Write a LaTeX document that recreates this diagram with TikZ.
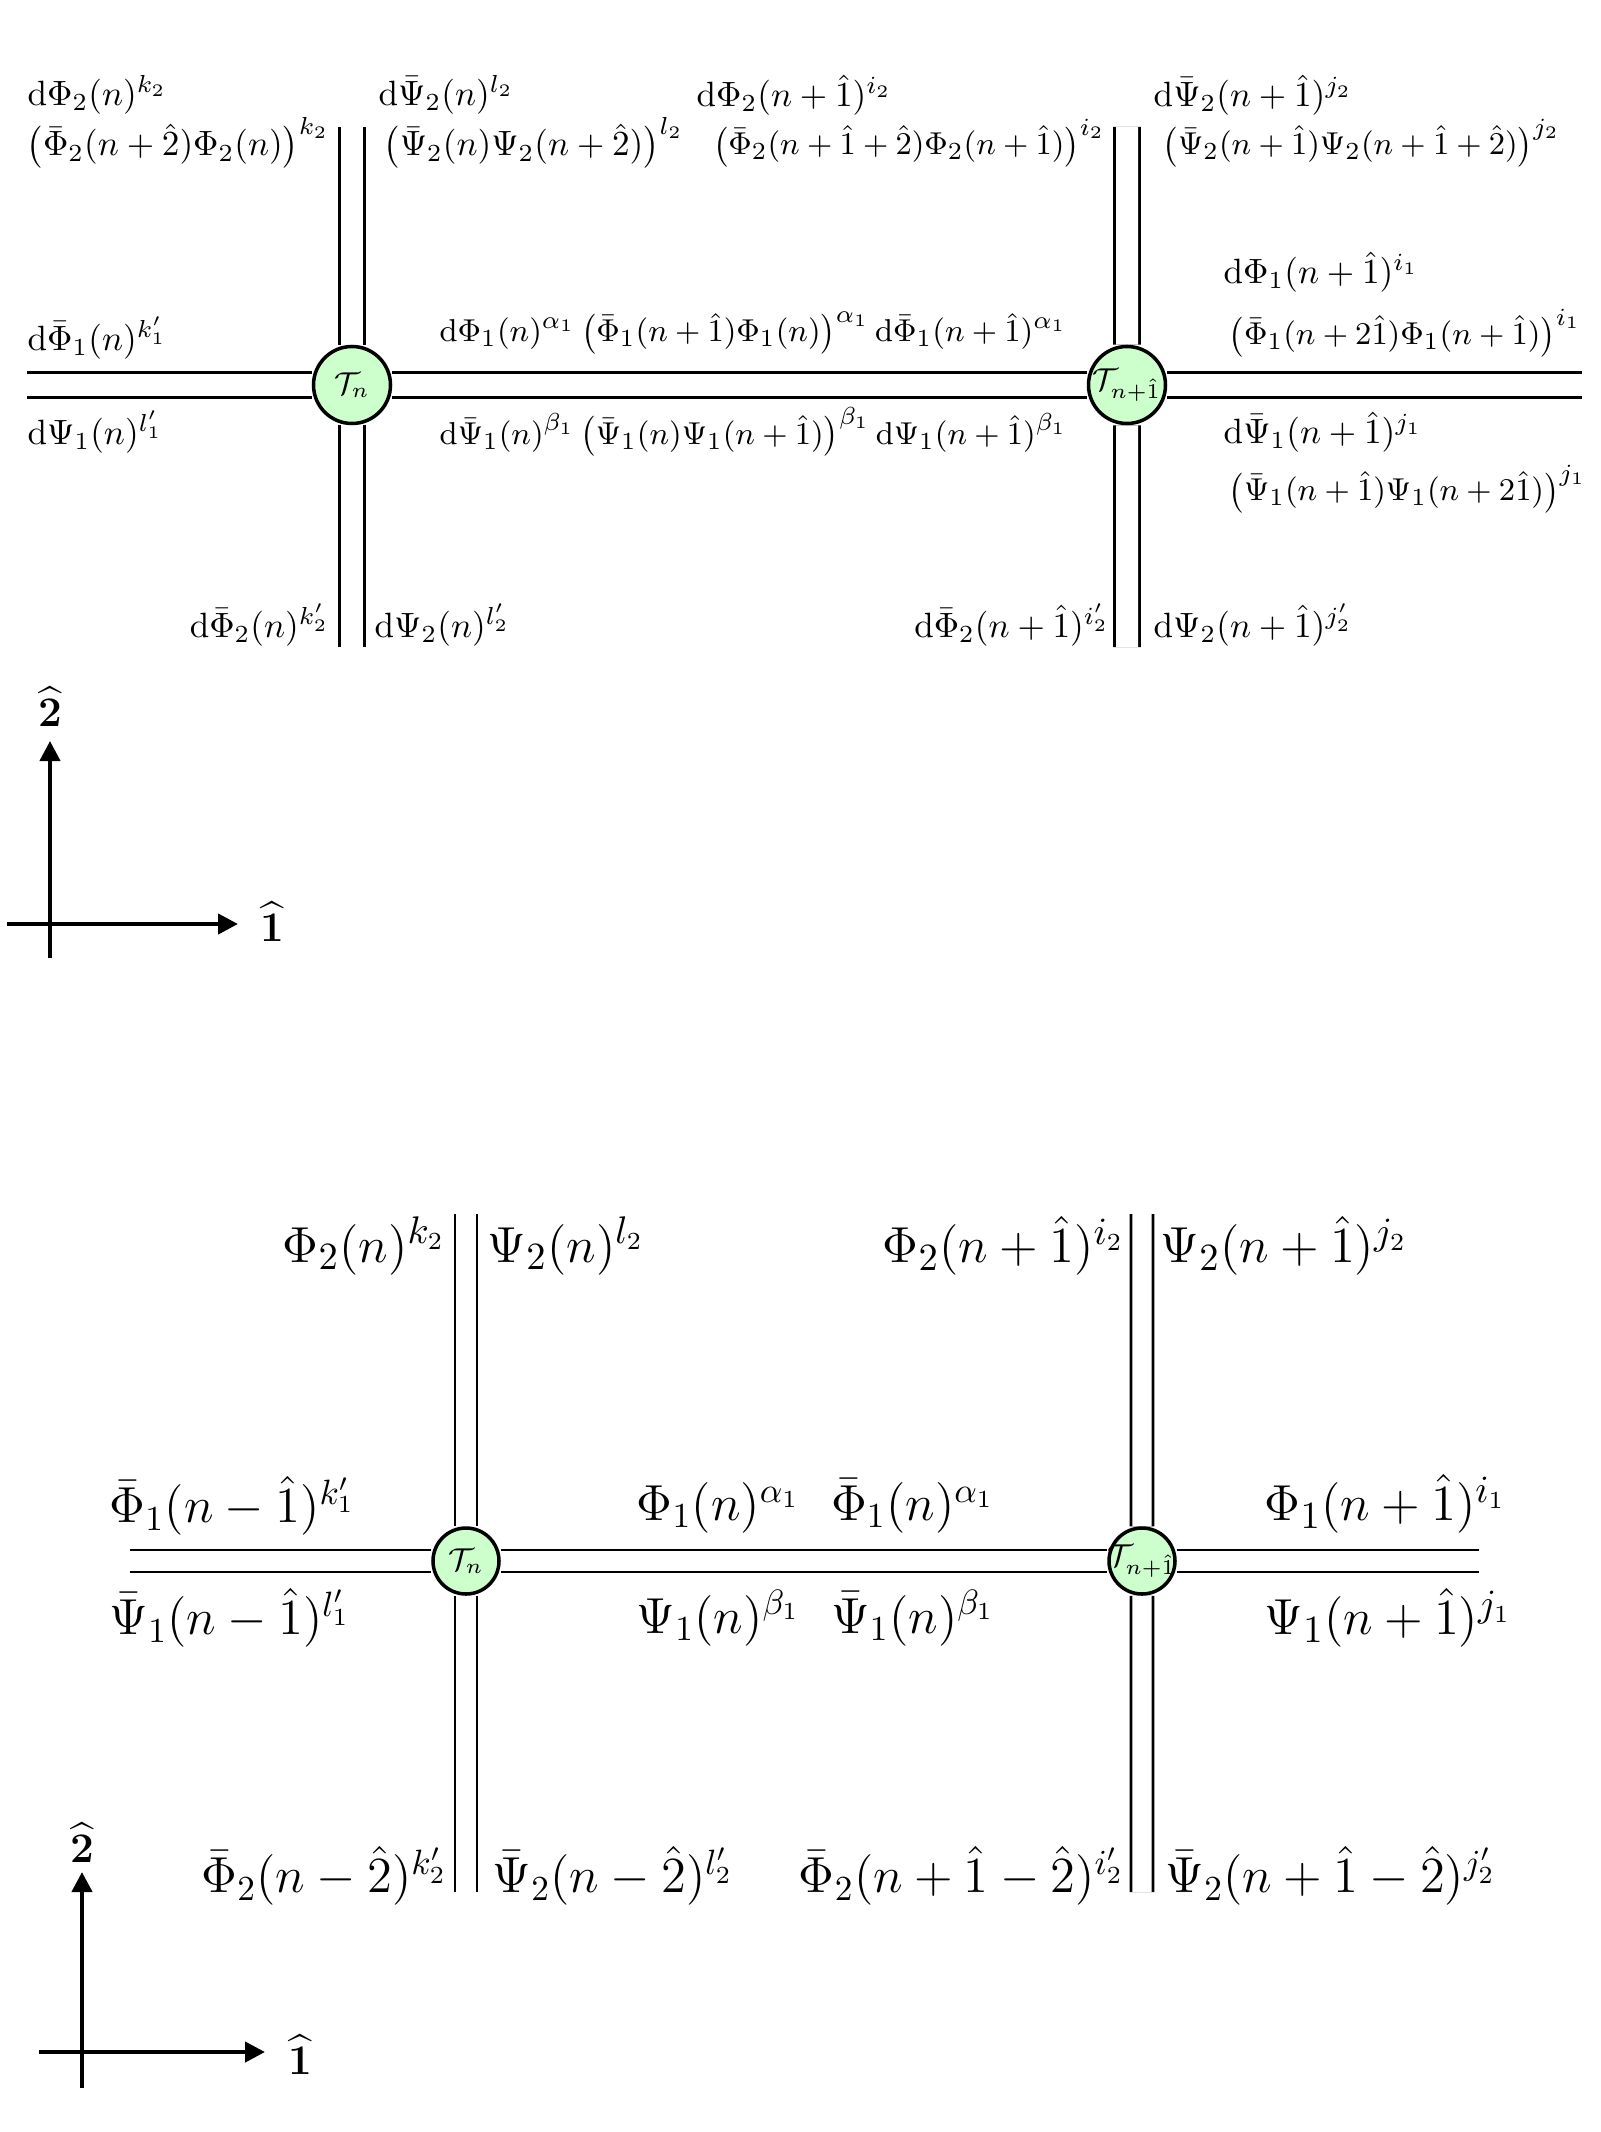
\documentclass[tikz,border=0pt]{standalone}
\usepackage{amsmath,amssymb}
\usetikzlibrary{positioning,arrows.meta,backgrounds}
\definecolor{tensorFill}{HTML}{CCFFCC}
\newcommand{\dd}{\mathrm{d}}
\newcommand{\eone}{\hat{1}}
\newcommand{\etwo}{\hat{2}}
\newcommand{\bPhi}{\bar{\Phi}}
\newcommand{\bPsi}{\bar{\Psi}}

\begin{document}
\begin{tikzpicture}[
    x=0.1mm, y=-0.1mm,
    tensor/.style={
        circle, draw, fill=tensorFill,
        line width=1pt, inner sep=0pt,
        minimum size=7.7mm, font=\small
    },
    leg/.style={draw, line width=0.8pt, double, double distance=2.2mm},
    lab/.style={inner sep=0pt, font=\normalsize},
    slab/.style={lab, font=\fontsize{9.5}{11.5}\selectfont},
    biglab/.style={inner sep=0pt, font=\fontsize{15}{18}\selectfont},
    sbiglab/.style={biglab, font=\fontsize{13.6}{16}\selectfont},
    axis/.style={-{Triangle[length=2mm, width=2mm]}, line width=1.2pt},
    axlab/.style={font=\large}
]
  \useasboundingbox (0,0) rectangle (1600,2132);

  % ---------------- upper network ----------------
  \node[tensor] (Tn) at (352,385) {$\mathcal{T}_n$};
  \node[tensor, on grid, right=7.75cm of Tn] (Tm) {$\mathcal{T}_{n+\eone}$};

  \coordinate (Lw) at (27,385);
  \coordinate (Le) at (1582,385);
  \coordinate (Lnn) at (352,127);
  \coordinate (Lns) at (352,647);
  \coordinate (Lmn) at (1127,127);
  \coordinate (Lms) at (1127,647);

  \begin{scope}[on background layer]
    \draw[leg] (Lw) -- (Tn);
    \draw[leg] (Tn) -- (Tm);
    \draw[leg] (Tm) -- (Le);
    \draw[leg] (Lnn) -- (Tn);
    \draw[leg] (Tn) -- (Lns);
    \draw[leg] (Lmn) -- (Tm);
    \draw[leg] (Tm) -- (Lms);
  \end{scope}

  % labels, top row
  \node[lab, anchor=west] (dphiN) at (27,95) {$\dd\Phi_2(n)^{k_2}$};
  \node[lab, anchor=east] (pphiN) at (330,143) {$\bigl(\bPhi_2(n+\etwo)\Phi_2(n)\bigr)^{k_2}$};
  \node[lab, anchor=west] (dpsiN) at (378,95) {$\dd\bPsi_2(n)^{l_2}$};
  \node[lab, anchor=west] (ppsiN) at (383,143) {$\bigl(\bPsi_2(n)\Psi_2(n+\etwo)\bigr)^{l_2}$};
  \node[lab, anchor=west] (dphiM) at (696,95) {$\dd\Phi_2(n+\eone)^{i_2}$};
  \node[slab, anchor=east] (pphiM) at (1106,143) {$\bigl(\bPhi_2(n+\eone+\etwo)\Phi_2(n+\eone)\bigr)^{i_2}$};
  \node[lab, anchor=west] (dpsiM) at (1153,95) {$\dd\bPsi_2(n+\eone)^{j_2}$};
  \node[slab, anchor=west] (ppsiM) at (1162,143) {$\bigl(\bPsi_2(n+\eone)\Psi_2(n+\eone+\etwo)\bigr)^{j_2}$};

  % labels, horizontal legs
  \node[lab, anchor=west] (dphiW) at (27,338) {$\dd\bPhi_1(n)^{k'_1}$};
  \node[lab, anchor=west] (dpsiW) at (27,432) {$\dd\Psi_1(n)^{l'_1}$};
  \node[slab, anchor=west] (phiMid) at (439,333) {$\dd\Phi_1(n)^{\alpha_1}\,\bigl(\bPhi_1(n+\eone)\Phi_1(n)\bigr)^{\alpha_1}\,\dd\bPhi_1(n+\eone)^{\alpha_1}$};
  \node[slab, anchor=west] (psiMid) at (439,432) {$\dd\bPsi_1(n)^{\beta_1}\,\bigl(\bPsi_1(n)\Psi_1(n+\eone)\bigr)^{\beta_1}\,\dd\Psi_1(n+\eone)^{\beta_1}$};
  \node[lab, anchor=west] (dphiE) at (1223,272) {$\dd\Phi_1(n+\eone)^{i_1}$};
  \node[slab, anchor=west] (pphiE) at (1228,333) {$\bigl(\bPhi_1(n+2\eone)\Phi_1(n+\eone)\bigr)^{i_1}$};
  \node[lab, anchor=west] (dpsiE) at (1223,432) {$\dd\bPsi_1(n+\eone)^{j_1}$};
  \node[slab, anchor=west] (ppsiE) at (1228,489) {$\bigl(\bPsi_1(n+\eone)\Psi_1(n+2\eone)\bigr)^{j_1}$};

  % labels, bottom row
  \node[lab, anchor=east] (dphiS) at (330,625) {$\dd\bPhi_2(n)^{k'_2}$};
  \node[lab, anchor=west] (dpsiS) at (374,625) {$\dd\Psi_2(n)^{l'_2}$};
  \node[lab, anchor=east] (dphiMS) at (1110,625) {$\dd\bPhi_2(n+\eone)^{i'_2}$};
  \node[lab, anchor=west] (dpsiMS) at (1153,625) {$\dd\Psi_2(n+\eone)^{j'_2}$};

  % axes
  \coordinate (Ao) at (50,924);
  \coordinate (Au) at (50,741);
  \coordinate (Ar) at (238,924);
  \draw[line width=1.2pt] (50,958) -- (Ao) -- (7,924);
  \draw[axis] (Ao) -- (Au);
  \draw[axis] (Ao) -- (Ar);
  \node[axlab] (Atwo) at (50,707) {$\widehat{\mathbf{2}}$};
  \node[axlab] (Aone) at (272,922) {$\widehat{\mathbf{1}}$};

  % ---------------- lower network ----------------
  \begin{scope}[tensor/.append style={minimum size=6.6mm},
                leg/.append style={double distance=1.92mm}]
    \node[tensor] (Sn) at (466,1561) {$\mathcal{T}_n$};
    \node[tensor, on grid, right=6.76cm of Sn] (Sm) {\makebox[0pt]{$\mathcal{T}_{n+\eone}$}};

    \coordinate (Kw) at (130,1561);
    \coordinate (Ke) at (1479,1561);
    \coordinate (Knn) at (466,1214);
    \coordinate (Kns) at (466,1892);
    \coordinate (Kmn) at (1142,1214);
    \coordinate (Kms) at (1142,1892);

    \begin{scope}[on background layer]
      \draw[leg] (Kw) -- (Sn);
      \draw[leg] (Sn) -- (Sm);
      \draw[leg] (Sm) -- (Ke);
      \draw[leg] (Knn) -- (Sn);
      \draw[leg] (Sn) -- (Kns);
      \draw[leg] (Kmn) -- (Sm);
      \draw[leg] (Sm) -- (Kms);
    \end{scope}
  \end{scope}

  \node[biglab, anchor=east] (phiN) at (446,1246) {$\Phi_2(n)^{k_2}$};
  \node[biglab, anchor=west] (psiN) at (487,1246) {$\Psi_2(n)^{l_2}$};
  \node[biglab, anchor=east] (phiM) at (1125,1246) {$\Phi_2(n+\eone)^{i_2}$};
  \node[biglab, anchor=west] (psiM) at (1160,1246) {$\Psi_2(n+\eone)^{j_2}$};

  \node[sbiglab, anchor=west] (bphiW) at (109,1506) {$\bPhi_1(n-\eone)^{k'_1}$};
  \node[sbiglab, anchor=west] (bpsiW) at (109,1618) {$\bPsi_1(n-\eone)^{l'_1}$};
  \node[sbiglab, anchor=west] (phiC) at (636,1506) {$\Phi_1(n)^{\alpha_1}\ \ \bPhi_1(n)^{\alpha_1}$};
  \node[sbiglab, anchor=west] (psiC) at (636,1618) {$\Psi_1(n)^{\beta_1}\ \ \bPsi_1(n)^{\beta_1}$};
  \node[biglab, anchor=west] (phiE) at (1264,1504) {$\Phi_1(n+\eone)^{i_1}$};
  \node[biglab, anchor=west] (psiE) at (1264,1618) {$\Psi_1(n+\eone)^{j_1}$};

  \node[sbiglab, anchor=east] (bphiS) at (448,1876) {$\bPhi_2(n-\etwo)^{k'_2}$};
  \node[sbiglab, anchor=west] (bpsiS) at (492,1876) {$\bPsi_2(n-\etwo)^{l'_2}$};
  \node[sbiglab, anchor=east] (bphiMS) at (1125,1876) {$\bPhi_2(n+\eone-\etwo)^{i'_2}$};
  \node[sbiglab, anchor=west] (bpsiMS) at (1165,1876) {$\bPsi_2(n+\eone-\etwo)^{j'_2}$};

  % axes
  \coordinate (Bo) at (82,2052);
  \coordinate (Bu) at (82,1872);
  \coordinate (Br) at (265,2052);
  \draw[line width=1.2pt] (82,2088) -- (Bo) -- (39,2052);
  \draw[axis] (Bo) -- (Bu);
  \draw[axis] (Bo) -- (Br);
  \node[axlab] (Btwo) at (82,1843) {$\widehat{\mathbf{2}}$};
  \node[axlab] (Bone) at (300,2055) {$\widehat{\mathbf{1}}$};

\end{tikzpicture}
\end{document}
